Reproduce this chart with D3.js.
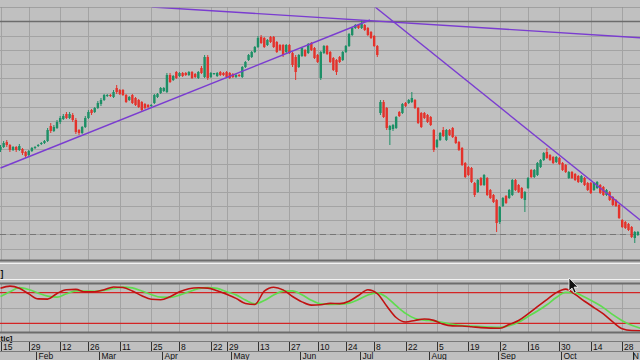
<!DOCTYPE html>
<html><head><meta charset="utf-8">
<script src="https://cdn.jsdelivr.net/npm/d3@7"></script>
<style>html,body{margin:0;padding:0;background:#c0c0c0;overflow:hidden}</style>
</head><body><svg id="c" width="640" height="360"></svg>
<script>
// ---------- data ----------
const openP = [
150,153,158,155,150,153,150,151,148,145,
149,152,154,156,157,159,174,169,172,
178,181,186,182,185,180,170,167,173,182,
190,188,192,196,200,204,205,203,212,210,
210,205,200,205,202,200,198,196,195,
194,197,203,207,209,208,225,220,228,224,
227,227,225,228,226,222,232,223,243,
223,226,224,228,227,228,227,226,223,
225,223,233,240,243,248,253,263,262,255,
263,263,258,255,255,248,255,247,243,233,
244,250,247,257,252,245,222,247,254,248,
242,240,243,240,248,254,265,272,275,
272,275,272,268,264,254,187,198,192,170,
171,172,188,187,197,197,198,200,192,
187,187,185,183,170,153,160,170,160,
170,172,163,158,152,137,133,132,117,108,
122,115,122,110,105,100,78,94,104,102,
105,120,115,112,100,112,130,123,125,133,
140,148,145,143,138,142,137,135,122,128,
126,124,118,122,117,117,110,112,115,
113,105,108,103,100,95,80,78,76,73,
62,65];
const highP = [
155,159,160,156,154,154,156,152,149,150,
153,154,156,158,160,172,177,175,180,
184,186,188,188,187,182,171,174,184,190,
191,193,199,202,206,206,206,210,215,211,
211,206,204,206,203,201,199,197,196,
196,206,207,213,213,227,227,225,229,228,
228,228,229,229,227,229,234,245,245,
228,227,228,229,228,229,228,227,226,
226,234,239,246,249,254,264,265,263,261,
264,264,259,256,256,256,256,248,245,246,
253,251,257,258,253,246,249,255,255,249,
243,241,244,249,255,267,273,276,276,
280,276,273,269,265,255,200,200,193,175,
176,184,189,197,198,201,208,201,193,
188,188,186,184,171,161,168,173,171,
171,173,164,159,153,138,134,133,118,121,
123,126,123,111,106,101,94,103,105,111,
121,121,116,113,109,123,131,131,138,141,
148,152,146,144,144,143,138,136,129,129,
127,125,125,123,118,118,118,119,116,
114,111,109,104,101,96,81,79,77,74,
69,69];
const lowP = [
148,152,153,148,149,148,149,145,142,143,
148,151,153,155,156,158,167,168,171,
176,180,181,181,178,166,165,166,172,181,
185,187,191,194,199,203,203,202,206,205,
204,197,199,196,194,192,188,191,192,
193,196,202,206,208,207,217,219,221,223,
223,224,224,221,222,221,226,222,220,
222,225,223,224,224,222,221,222,222,
223,222,232,239,242,247,252,256,252,254,
257,252,247,249,243,247,246,233,220,232,
243,243,246,249,241,237,220,246,245,237,
229,225,237,239,247,253,264,271,271,
271,269,264,261,253,243,185,182,170,155,
169,171,183,186,193,196,197,191,176,
172,181,177,174,148,152,159,163,159,
164,162,156,149,134,122,124,117,103,107,
114,114,104,101,97,68,76,93,96,101,
104,109,107,101,88,111,122,122,124,132,
139,141,139,136,137,135,129,127,121,121,
119,117,117,114,109,106,109,111,106,
104,104,99,94,93,81,72,71,69,62,
57,64];
const closeP = [
153,157,155,150,153,150,154,147,144,149,
152,153,155,157,159,170,169,173,178,
182,184,182,186,180,168,167,173,182,188,
187,192,197,200,205,205,204,208,208,206,
205,198,203,197,195,193,190,192,193,
195,205,206,212,212,225,218,224,222,227,
224,225,228,222,223,228,227,243,222,
227,227,227,225,225,223,222,223,225,
224,233,238,245,248,253,262,257,253,260,
258,253,248,250,245,255,247,235,228,245,
252,244,256,250,242,238,248,254,246,238,
230,228,238,248,254,266,272,275,272,
276,270,265,262,254,245,198,183,172,174,
175,183,184,196,194,200,202,192,177,
173,182,178,175,150,160,167,164,170,
165,163,157,150,135,123,125,118,105,120,
115,125,105,102,98,77,93,102,97,110,
120,110,108,102,108,122,123,130,137,140,
147,142,140,137,143,136,130,128,128,122,
120,118,124,115,110,107,117,118,107,
105,110,100,95,94,82,73,72,70,63,
68,68];

const firstDay = "2024-01-16";
const holidays = ["2024-01-15","2024-02-19","2024-03-29","2024-05-27","2024-06-19","2024-07-04","2024-09-02"];

const dayTickLabels = ["15","29","12","26","11","25","8","22","29","13","27","10","24","8","22","5","19","2","16","30","14","28"];
const dayTickDates  = ["2024-01-15","2024-01-29","2024-02-12","2024-02-26","2024-03-11","2024-03-25","2024-04-08","2024-04-22","2024-04-29","2024-05-13","2024-05-27","2024-06-10","2024-06-24","2024-07-08","2024-07-22","2024-08-05","2024-08-19","2024-09-02","2024-09-16","2024-09-30","2024-10-14","2024-10-28"];
const monthLabels = ["Feb","Mar","Apr","May","Jun","Jul","Aug","Sep","Oct","N"];
const monthDates  = ["2024-02-01","2024-03-01","2024-04-01","2024-05-01","2024-06-01","2024-07-01","2024-08-01","2024-09-01","2024-10-01","2024-11-01"];

const pricePaneLabel = "]";
const indicatorLabel = "tic]";

// stochastic, one value every 3 trading days
const stochStep = 3;
const stochK = [88.8,92.8,88.8,77.7,67.8,67.5,78.6,85.8,86.5,81.6,
81.9,85.7,91.2,90.1,83.3,74.1,67.1,66.2,72.2,81.8,
87.8,89.6,89.0,83.9,77.0,68.9,58.8,57.0,83.0,90.8,
85.5,72.6,62.0,55.7,56.3,59.1,58.5,63.3,74.5,85.8,
78.4,53.9,31.4,22.6,25.6,28.4,25.7,18.1,15.0,14.7,
13.3,11.6,10.5,10.2,17.6,25.5,38.5,52.6,66.4,80.1,
87.0,76.7,63.2,50.9,38.3,22.8,9.3,5.9,5.5];
const stochD = [72.7,81.8,89.8,86.2,79.2,73.3,71.2,77.9,83.5,83.3,
82.8,84.7,88.2,91.0,89.3,83.2,76.6,71.2,71.0,75.2,
81.8,88.1,90.1,88.4,81.9,75.7,65.7,58.0,64.5,75.4,
83.0,83.7,76.0,65.3,58.1,57.3,57.4,59.6,66.5,75.5,
79.7,70.9,54.6,39.5,29.5,26.2,24.9,21.5,17.8,15.4,
14.4,13.6,12.7,12.2,15.1,22.1,33.3,44.0,56.3,70.5,
80.5,79.5,71.6,61.7,50.7,37.0,25.2,16.1,10.0];
const stochLevels = [80, 20];

const supportLevel = 65.5;
const priceLines = [293, 278.5];
// trend lines: [trading-day index, price] pairs
const trendLines = [
  [[0, 132], [117.7, 280]],
  [[119.3, 293], [203.7, 80]],
  [[48.2, 293], [203.7, 262.3]]
];

// ---------- setup ----------
const svg = d3.select("#c");
const parse = d3.utcParse("%Y-%m-%d"), fmt = d3.utcFormat("%Y-%m-%d");
const hol = new Set(holidays);
const days = [];
for (let d = parse(firstDay); days.length < openP.length + 20; d = d3.utcDay.offset(d, 1)) {
  const wd = d.getUTCDay();
  if (wd === 0 || wd === 6 || hol.has(fmt(d))) continue;
  days.push(fmt(d));
}
const dayIdx = s => days.findIndex(d => d >= s);

const x = d3.scaleLinear().domain([0, 200]).range([0.5, 628.5]);
const y = d3.scaleLinear().domain([39, 300]).range([261, 0]);
const ys = d3.scaleLinear().domain([0, 100]).range([333.5, 282.5]);

const BG = "#c0c0c0", GRID = "#a3a3a3", DARK = "#6c6c6c";
const UP = "#1d8f66", DOWN = "#e4322b", TREND = "#7a3cd0";
const FONT = "Liberation Sans, Arial, sans-serif";

svg.append("rect").attr("width", 640).attr("height", 360).attr("fill", BG);

const defs = svg.append("defs");
defs.append("clipPath").attr("id", "mainClip").append("rect").attr("x", 0).attr("y", 7.5).attr("width", 640).attr("height", 252.5);
defs.append("clipPath").attr("id", "indClip").append("rect").attr("x", 0).attr("y", 284).attr("width", 640).attr("height", 48);

const tickIdx = dayTickDates.map(dayIdx);
const monthIdx = monthDates.map(dayIdx);

// ---------- main panel ----------
const main = svg.append("g").attr("clip-path", "url(#mainClip)");
const gridLevels = d3.range(priceLines[1] - 14.2, 39, -14.2);
main.selectAll(".hg").data(gridLevels).join("line")
  .attr("x1", 0).attr("x2", 640)
  .attr("y1", d => Math.round(y(d)) + 0.5).attr("y2", d => Math.round(y(d)) + 0.5)
  .attr("stroke", GRID).attr("stroke-width", 1);
main.selectAll(".vg").data(tickIdx).join("line")
  .attr("x1", d => Math.round(x(d)) + 0.5).attr("x2", d => Math.round(x(d)) + 0.5)
  .attr("y1", 7).attr("y2", 261)
  .attr("stroke", GRID).attr("stroke-width", 1);

main.selectAll(".pl").data(priceLines).join("line")
  .attr("x1", 0).attr("x2", 640)
  .attr("y1", d => y(d)).attr("y2", d => y(d))
  .attr("stroke", DARK).attr("stroke-width", 1.3);

main.append("line").attr("x1", 0).attr("x2", 640)
  .attr("y1", y(supportLevel)).attr("y2", y(supportLevel))
  .attr("stroke", "#767676").attr("stroke-width", 1.2).attr("stroke-dasharray", "6,4");

const candles = openP.map((o, i) => ({i, o, h: highP[i], l: lowP[i], c: closeP[i]}));
const cg = main.append("g");
cg.selectAll(".wick").data(candles).join("line")
  .attr("x1", d => x(d.i)).attr("x2", d => x(d.i))
  .attr("y1", d => y(Math.max(d.h, d.o, d.c))).attr("y2", d => y(Math.min(d.l, d.o, d.c)))
  .attr("stroke", d => d.c >= d.o ? UP : DOWN).attr("stroke-width", 1);
cg.selectAll(".body").data(candles).join("rect")
  .attr("x", d => x(d.i) - 1.2).attr("width", 2.4)
  .attr("y", d => y(Math.max(d.o, d.c)))
  .attr("height", d => Math.max(1, Math.abs(y(d.o) - y(d.c))))
  .attr("fill", d => d.c >= d.o ? UP : DOWN);

main.selectAll(".tl").data(trendLines).join("line")
  .attr("x1", d => x(d[0][0])).attr("y1", d => y(d[0][1]))
  .attr("x2", d => x(d[1][0])).attr("y2", d => y(d[1][1]))
  .attr("stroke", TREND).attr("stroke-width", 1.4);

// separators between panels
svg.append("rect").attr("x", 0).attr("y", 259.5).attr("width", 640).attr("height", 2).attr("fill", DARK);
svg.append("line").attr("x1", 0).attr("x2", 640).attr("y1", 263.5).attr("y2", 263.5).attr("stroke", "#f2f2f2").attr("stroke-width", 1);
svg.append("line").attr("x1", 0).attr("x2", 640).attr("y1", 279.5).attr("y2", 279.5).attr("stroke", "#f2f2f2").attr("stroke-width", 1);
svg.append("text").attr("x", 0.5).attr("y", 277).text(pricePaneLabel)
  .attr("font-family", FONT).attr("font-size", 8.5).attr("font-weight", "bold").attr("fill", "#111");

// ---------- indicator panel ----------
const ind = svg.append("g").attr("clip-path", "url(#indClip)");
ind.selectAll(".vg").data(tickIdx).join("line")
  .attr("x1", d => Math.round(x(d)) + 0.5).attr("x2", d => Math.round(x(d)) + 0.5)
  .attr("y1", 283).attr("y2", 333)
  .attr("stroke", GRID).attr("stroke-width", 1);
ind.append("line").attr("x1", 0).attr("x2", 640).attr("y1", Math.round(ys(50)) + 0.5).attr("y2", Math.round(ys(50)) + 0.5)
  .attr("stroke", GRID).attr("stroke-width", 1);
ind.selectAll(".lv").data(stochLevels).join("line")
  .attr("x1", 0).attr("x2", 640).attr("y1", d => ys(d)).attr("y2", d => ys(d))
  .attr("stroke", "#d42424").attr("stroke-width", 1.2);
const sl = d3.line().x((d, k) => x(k * stochStep)).y(d => ys(d)).curve(d3.curveMonotoneX);
ind.append("path").datum(stochD).attr("d", sl).attr("fill", "none").attr("stroke", "#5fdc4f").attr("stroke-width", 1.7);
ind.append("path").datum(stochK).attr("d", sl).attr("fill", "none").attr("stroke", "#c01212").attr("stroke-width", 1.6);
svg.append("rect").attr("x", 0).attr("y", 282.5).attr("width", 640).attr("height", 2).attr("fill", DARK);
svg.append("rect").attr("x", 0).attr("y", 331.5).attr("width", 640).attr("height", 2).attr("fill", DARK);
svg.append("text").attr("x", 0.5).attr("y", 340.5).text(indicatorLabel)
  .attr("font-family", FONT).attr("font-size", 8).attr("font-weight", "bold").attr("fill", "#111");

// ---------- date axis ----------
const ax = svg.append("g");
ax.append("line").attr("x1", 0).attr("x2", 640).attr("y1", 341.5).attr("y2", 341.5).attr("stroke", "#7a7a7a");
ax.append("line").attr("x1", 0).attr("x2", 640).attr("y1", 351.5).attr("y2", 351.5).attr("stroke", "#7a7a7a");
ax.selectAll(".dt").data(tickIdx).join("line")
  .attr("x1", d => Math.round(x(d)) + 0.5).attr("x2", d => Math.round(x(d)) + 0.5)
  .attr("y1", 342).attr("y2", 351).attr("stroke", "#333");
ax.selectAll(".dl").data(tickIdx).join("text")
  .attr("x", d => Math.round(x(d)) + 2).attr("y", 349.5)
  .text((d, k) => dayTickLabels[k])
  .attr("font-family", FONT).attr("font-size", 8.5).attr("fill", "#111");
ax.selectAll(".mt").data(monthIdx).join("line")
  .attr("x1", d => Math.round(x(d)) - 1.5).attr("x2", d => Math.round(x(d)) - 1.5)
  .attr("y1", 352).attr("y2", 360).attr("stroke", "#333");
ax.selectAll(".ml").data(monthIdx).join("text")
  .attr("x", d => Math.round(x(d)) + 0.5).attr("y", 359)
  .text((d, k) => monthLabels[k])
  .attr("font-family", FONT).attr("font-size", 8.5).attr("fill", "#111")
  .each(function() {
    const w = this.getComputedTextLength();
    const x0 = +this.getAttribute("x");
    if (x0 + w > 639) this.setAttribute("x", 639 - w);
  });

// mouse pointer seen in the screenshot
svg.append("path").attr("d", "M569,278 l0,13 l3,-3 l2.2,5 l2,-0.9 l-2.2,-5 l4,0 z")
  .attr("fill", "#111").attr("stroke", "#fff").attr("stroke-width", 0.7);
</script></body></html>
